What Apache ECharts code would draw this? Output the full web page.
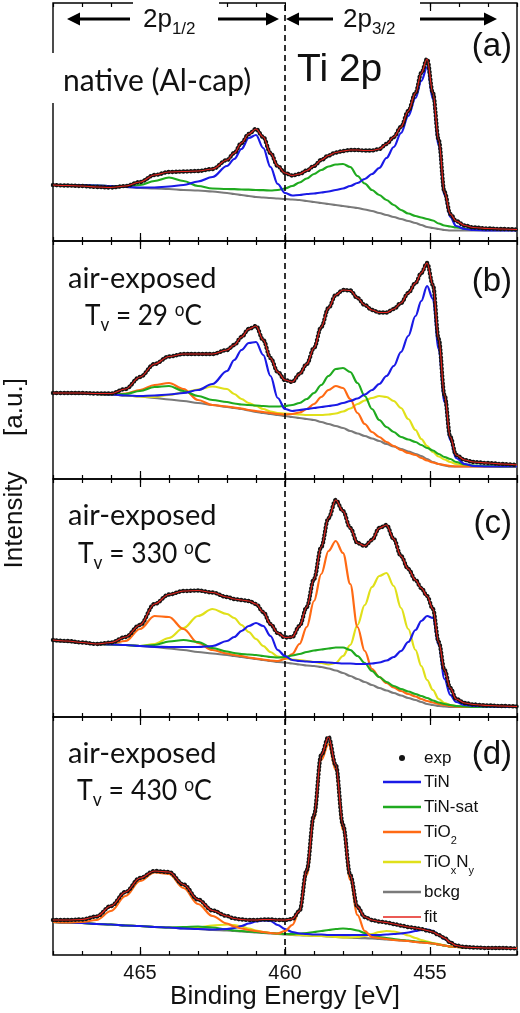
<!DOCTYPE html>
<html lang="en">
<head>
<meta charset="UTF-8">
<title>Ti 2p</title>
<script src="https://cdn.jsdelivr.net/npm/echarts@6/dist/echarts.min.js"></script>
<style>
    *{ margin:0; padding:0; }
    body{ background:#fff; }
    #main{ width:520px; height:1013px; }
</style>
</head>
<body>
<div id="main"></div>
<script>
// binding energy grid [eV] shared by every panel (finer where the peaks are sharp)
var energy = [468, 467.5, 467, 466.5, 466, 465.5, 465, 464.5, 464, 463.5, 463, 462.5,
    462, 461.75, 461.5, 461.25, 461, 460.75, 460.5, 460.25, 460, 459.75, 459.5, 459.25, 459,
    458.75, 458.5, 458.25, 458, 457.75, 457.5, 457.25, 457, 456.75, 456.5, 456.25, 456, 455.75, 455.5,
    455.3, 455.1, 454.9, 454.7, 454.5, 454.3, 454.1,
    453.8, 453.5, 453, 452.5, 452];
var majorTicks = [455, 460, 465];

// (a) native (Al-cap)  -- exp and fit overlap, so one array serves both
var sumA = [56,55.5,55,54,53.5,55,59,66,69,69.5,70,72, 81,88,98,107,112,104,88,75,68,65.5,67,70.5,75,81,85.5,88.5,90,91,91,90.5,90.5,92,97,104,114,130,148, 168,182,148,101,49,27,20, 15.5,13.5,12.5,12,11.5];
var tinA = [56,56,56,55.5,55,54,53.5,53.5,54.5,56,59.5,64, 75,82,92,103,106,93,74,57,48,45.5,46,47,47.5,48.5,49.5,51,52.5,55,58,62,67,73,83,94,108,125,143, 160,174,142,96,46,24,15, 12,11,10.5,10.5,10.5];
var satA = [56,56,56,55.5,55,55,56,60,63.5,60,55,52.5, 52,51.8,51.5,51.3,51,50.8,50.5,51,52.5,55,58.5,62.5,67,71,74.5,76.5,77,74,65,57.5,51,46,41,36,31,27.5,25, 23.5,22,20.5,17.5,15.5,14.5,13.5, 12.5,12,11.5,11,11];
var bckgA = [56,56,56,55.5,55,54,53,52.5,52,51,50.5,49.5, 48,47,46,45,44,43.5,43,42.5,42,41.5,41,40,39,38,37,36,35,34,33,31.5,30,28,26,24,22,20,18, 16,14,13,12,11,10.5,10.5, 10.5,10.5,10.5,10.5,10.5];

// (b) air-exposed, Tv = 29 C
var sumB = [86,86,86,85.5,85.5,90,102,115,122.5,125,125,125, 129,134,142,150,153,139,121,107,99,97,105,115,131,152,171,184,189,188.5,181,174,169,166.5,166.5,170,176,186,196, 206,216,194,140,84,42,24, 19,17,16,15,14];
var tinB = [86,86,85.5,85,84.5,83.5,83,83.5,84.5,86,89,95, 108,119,129,136,137,124,103,81,70,68,69,70,71,72,73,74,76,78,80.5,84.5,89,95,103,113,127,143,163, 178,193,180,130,77,39,21, 15,13,12.5,12.5,12.5];
var satB = [86,86,85.5,85,84.5,85,88,92,93,88,83,79, 77,75.5,74.5,74,73.5,73,72.5,72.5,73,74,76,80,86,94,103,110,111,107,96,83,70,59,52,47,42,39.5,37, 34,31,28.5,25,22,20,17, 14.5,13.5,13,12.5,12.5];
var tio2B = [86,86,85.5,85,84.5,85.5,89,94,96,90,79,74, 72.5,71.5,70.5,69,68,67,66,65,64.5,65,66.5,70,75,82,89,93,91,80,66,55,47,42,37,33,29,26,24, 21,18.5,16.5,15,14,13,12.5, 12.5,12.5,12.5,12.5,12.5];
var tioxnyB = [86,86,85.5,85,84.5,83.5,82.5,82,84,86.5,89.5,92.5, 90,85,80,76,73,70,67.5,66,65.5,65,64.5,64,64,64,64.5,65.5,67.5,70.5,75,78.5,81,83,82,78,71,60,49, 40,33,27,22.5,19.5,17,15, 13.5,13,12.5,12.5,12.5];
var bckgB = [86,86,85.5,85,84.5,83.5,82.5,81,79.5,78,76,74, 72,71,70,68.5,67,66,65,64,63,62,61,60,59,57,55,53,51,48,45.5,43,40.5,38,35,32.5,30,27.5,25, 23,20,17,15,13.5,12.5,12.5, 12.5,12.5,12.5,12.5,12.5];

// (c) air-exposed, Tv = 330 C
var sumC = [77,76,74.5,73,74.5,80,92,113,122.5,126,126.5,124.5, 120,118,117,116,113,105,93,84,79.5,80,91,110,138,170,199,217,206,189,174,171,177,189,192,178,161,148,137, 129,121,108,75,47,29,18, 14,12.5,11.5,11,10.5];
var tinC = [77,76,74.5,73,72.5,72,71,70.2,70,70,70,71, 76,80,86,91,94,91,81,67,61,57,56,55.5,55,55,54.5,54,53.5,53.5,53,53,53.5,54.5,56.5,60,66,75,87, 96,101,99,72,38,22,15, 12,11,10.5,10,10];
var satC = [77,76,74.5,73,72.5,72,71,72,75.5,77,75,69, 65.5,64,63,62.5,62,61,60,59.5,60,61.5,63,65,66.5,67.5,68.5,69.5,69.5,67,61,54,46,40,35,31,28,25.5,23, 21,19,16.5,14.5,13,12,11, 10.5,10,10,10,10];
var tio2C = [77,76,74.5,73,73.5,76,88,101,100,88,74,67, 63.5,62,61,59.5,58.5,57.5,56.5,56,58,63,73,90,116,143,166,176,164,133,90,66,48,40,34,29.5,26,23,20.5, 18,16,14.5,13,12,11,10.5, 10,10,10,10,10];
var tioxnyC = [77,76,74.5,73,72.5,72,71,73,79,89,101,108, 103,99,92,85,78,71,65,60.5,58.5,57.5,57,56,55,54,52.5,54,61,72,92,112,130,141,144,131,109,88,67, 51,37,27,18,14,12,11, 10.5,10,10,10,10];
var bckgC = [76,75,74,73,72.5,72,71,70,68.5,67,65,63.5, 62,61,60,59,58,57,56,55,54.5,53.5,52.5,51.5,51,50,48.5,46.5,44,41,38,35,32,29,26.5,24,21.5,19,17, 15,13,12,11,10.5,10,10, 10,10,10,10,10];

// (d) air-exposed, Tv = 430 C
var sumD = [35,35,35.5,38.5,49,63,77,84,83,70.5,55.5,44.5, 39,36.5,35.5,35,35,35.5,35.5,35,35,36,44,85,140,200,218,190,130,80,48,38,35,33.5,32.5,31,29.5,28,27, 26,24.5,23,20,17,12.5,9.5, 8,7.5,7,7,6.5];
var tinD = [33,32.5,32,31,30.5,29.5,29,28,27.5,26.5,26,25.5, 26,27,29,31.5,33.5,34.5,34,30,26,23,21.5,21,20.5,20.5,20,20,20,20,20,20,20,20,20.5,21,21.5,22.5,24, 25,25.5,24,20,16,12.5,9.5, 8,7.5,7,7,7];
var satD = [33,32.5,32,31,30.5,29.5,29,28,27.5,28,28.5,27.5, 25.5,24.5,24,23.5,23,22.5,22,21.5,21,21,21.5,22,23,24,25,26,26.5,26,24.5,22,19.5,18,17,16,15,14.5,13.5, 13,12.5,11.5,10.5,9.5,8.5,8, 7.5,7,7,7,7];
var tio2D = [33,32.5,33,35,44,59,74,82.5,81,67,51,39, 31.5,28.5,26.5,25,24,23,22,21.5,24,30,44,80,136,195,211,185,125,75,40,24,18,17,16,15,14.5,14,13, 12.5,12,11.5,10.5,9.5,8.5,8, 7.5,7,7,7,7];
var tioxnyD = [33,32.5,32,31,30.5,29.5,29,28,27.5,27,27.5,29.5, 30.5,30,28.5,26.5,24.5,23,22,21.5,21,20.5,20,19.5,19.2,19,18.5,18,17.7,17.5,18,19,21,23,24,23.5,22,19.5,17, 15,13.5,12,11,9.5,8.5,8, 7.5,7,7,7,7];
var bckgD = [33,32.5,32,31,30.5,29.5,29,28,27.5,26.5,26,25, 24.5,24,23.5,23,22.5,22,21.5,21,20.5,20,19.8,19.5,19.2,19,18.5,18,17.7,17.4,17,16.8,16.5,16,15.5,15,14.5,14,13, 12.5,12,11.5,10.5,9.5,8.5,8, 7.5,7,7,7,7];

var colors = {
    'TiN':'#1a1ae6', 'TiN-sat':'#1faa1f', 'TiO2':'#ff6a14', 'TiOxNy':'#e0e01a',
    'bckg':'#7a7a7a', 'fit':'#e5231d', 'exp':'#141414'
};

var panels = [
    {bckg:bckgA, comps:[['TiN-sat',satA],['TiN',tinA]], sum:sumA},
    {bckg:bckgB, comps:[['TiOxNy',tioxnyB],['TiO2',tio2B],['TiN-sat',satB],['TiN',tinB]], sum:sumB},
    {bckg:bckgC, comps:[['TiOxNy',tioxnyC],['TiO2',tio2C],['TiN-sat',satC],['TiN',tinC]], sum:sumC},
    {bckg:bckgD, comps:[['TiOxNy',tioxnyD],['TiN-sat',satD],['TiN',tinD],['TiO2',tio2D]], sum:sumD}
];

var gridTops = [3, 241, 479, 717];
var gridH = 238;
var axisFont = 'Liberation Sans';
var textFont = 'Lato';

function pairs(arr){
    return energy.map(function(e, i){ return [e, arr[i]]; });
}

function lineSeries(g, name, arr, lineStyle, z){
    return {
        type:'line', name:name, xAxisIndex:g*4, yAxisIndex:g,
        data:pairs(arr), showSymbol:false, smooth:0.35, smoothMonotone:'x',
        lineStyle:lineStyle, z:z, silent:true, animation:false
    };
}

var grids = [], xAxes = [], yAxes = [], series = [];
var tickStyle = {color:'#000', width:1.2};

panels.forEach(function(p, g){
    grids.push({left:53, width:464, top:gridTops[g], height:gridH, show:true,
        borderColor:'#000', borderWidth:1.4, backgroundColor:'transparent'});
    ['bottom','top'].forEach(function(pos){
        // minor ticks every 1 eV
        xAxes.push({gridIndex:g, type:'value', min:452, max:468, inverse:true, interval:1, position:pos,
            axisLine:{show:false}, splitLine:{show:false}, axisLabel:{show:false},
            axisTick:{inside:true, length:4, lineStyle:tickStyle}});
        // major ticks at 455 / 460 / 465
        var showLab = (g === 3 && pos === 'bottom');
        xAxes.push({gridIndex:g, type:'value', min:452, max:468, inverse:true, position:pos,
            axisLine:{show:false}, splitLine:{show:false},
            axisTick:{inside:true, length:8, customValues:majorTicks, lineStyle:tickStyle},
            axisLabel:{show:showLab, customValues:majorTicks, margin:8, color:'#111',
                fontFamily:axisFont, fontSize:20},
            name: showLab ? 'Binding Energy [eV]' : '', nameLocation:'middle', nameGap:28,
            nameTextStyle:{fontFamily:axisFont, fontSize:26, color:'#111'}});
    });
    yAxes.push({gridIndex:g, type:'value', min:0, max:gridH, show:false});

    var bk = lineSeries(g, 'bckg', p.bckg, {color:colors.bckg, width:2.2}, 2);
    bk.markLine = {silent:true, symbol:'none', label:{show:false}, animation:false,
        lineStyle:{color:'#000', type:[6,4], width:1.6}, data:[{xAxis:460}]};
    series.push(bk);
    p.comps.forEach(function(c, k){
        series.push(lineSeries(g, c[0], c[1], {color:colors[c[0]], width:2.2}, 3 + k));
    });
    series.push(lineSeries(g, 'exp', p.sum, {color:colors.exp, width:4.4, type:[0.1, 3.6], cap:'round'}, 10));
    series.push(lineSeries(g, 'fit', p.sum, {color:colors.fit, width:1.2}, 11));
});

// texts, arrows and the hand-made legend
var G = [];
function txt(x, y, text, size, font, extra){
    var s = {text:text, x:0, y:0, fontSize:size, fontFamily:font, fill:'#111',
        verticalAlign:'middle', align:'left'};
    for (var k in extra) s[k] = extra[k];
    return {type:'text', x:x, y:y, style:s, z:100, silent:true};
}
function white(x, y, w, h){
    return {type:'rect', shape:{x:x, y:y, width:w, height:h}, style:{fill:'#fff'}, z:90, silent:true};
}
function arrow(xFrom, xTip, y){
    var d = xTip > xFrom ? -1 : 1;
    return [
        {type:'line', shape:{x1:xFrom, y1:y, x2:xTip + d*8, y2:y}, style:{stroke:'#000', lineWidth:3}, z:100, silent:true},
        {type:'polygon', shape:{points:[[xTip, y], [xTip + d*13, y - 6.5], [xTip + d*13, y + 6.5]]},
            style:{fill:'#000'}, z:100, silent:true}
    ];
}

G.push(white(133, 0, 86, 38), white(286, 0, 134, 38), white(47, 53, 205, 50));
G = G.concat(arrow(130, 67, 19), arrow(218, 279, 19), arrow(333, 286, 19), arrow(420, 497, 19));
var subRich = {s:{fontSize:17, fontFamily:axisFont, padding:[18,0,0,0]}};
G.push(txt(143, 20, '2p{s|1/2}', 26, axisFont, {rich:subRich}));
G.push(txt(343, 20, '2p{s|3/2}', 26, axisFont, {rich:subRich}));
G.push(txt(297, 70, 'Ti 2p', 39, axisFont));

var tvRich = {
    sub:{fontSize:19, fontFamily:textFont, padding:[18,0,0,0]},
    sup:{fontSize:19, fontFamily:textFont, padding:[0,0,12,0]}
};
var descr = [
    [63, 81, 'native (Al-cap)', 30, 1],
    [68, 279, 'air-exposed', 29, 1],
    [85, 316, 'T{sub|v} = 29 {sup|o}C', 29, 0.9],
    [68, 516, 'air-exposed', 29, 1],
    [78, 554, 'T{sub|v} = 330 {sup|o}C', 29, 0.91],
    [68, 754, 'air-exposed', 29, 1],
    [77, 791, 'T{sub|v} = 430 {sup|o}C', 29, 0.92]
];
descr.forEach(function(d){
    var el = txt(d[0], d[1], d[2], d[3], textFont, {rich:tvRich});
    el.scaleX = d[4];
    G.push(el);
});

var tags = [['(a)', 47], ['(b)', 282], ['(c)', 524], ['(d)', 755]];
tags.forEach(function(t){
    G.push(txt(512, t[1], t[0], 33, axisFont, {align:'right'}));
});

// y axis title, read from bottom to top
var yName1 = txt(15, 520, 'Intensity', 26, axisFont, {align:'center'});
yName1.rotation = Math.PI / 2;
var yName2 = txt(15, 407, '[a.u.]', 26, axisFont, {align:'center'});
yName2.rotation = Math.PI / 2;
G.push(yName1, yName2);

// legend in panel (d)
var legendRows = [
    ['exp', 758, 'exp'],
    ['TiN', 782, 'TiN'],
    ['TiN-sat', 807, 'TiN-sat'],
    ['TiO2', 832, 'TiO{s|2}'],
    ['TiOxNy', 862, 'TiO{s|x}N{s|y}'],
    ['bckg', 892, 'bckg'],
    ['fit', 917, 'fit']
];
var legRich = {s:{fontSize:11, fontFamily:axisFont, padding:[18,0,0,0]}};
legendRows.forEach(function(r){
    if (r[0] === 'exp') {
        G.push({type:'circle', shape:{cx:402, cy:r[1], r:3}, style:{fill:colors.exp}, z:100, silent:true});
    } else {
        G.push({type:'line', shape:{x1:383, y1:r[1], x2:421, y2:r[1]},
            style:{stroke:colors[r[0]], lineWidth:r[0] === 'fit' ? 1.5 : 2.5}, z:100, silent:true});
    }
    G.push(txt(424, r[1], r[2], 17, axisFont, {rich:legRich}));
});

var chart = echarts.init(document.getElementById('main'));
chart.setOption({
    animation:false,
    backgroundColor:'#fff',
    grid:grids,
    xAxis:xAxes,
    yAxis:yAxes,
    series:series,
    graphic:{elements:G}
});
</script>
</body>
</html>
